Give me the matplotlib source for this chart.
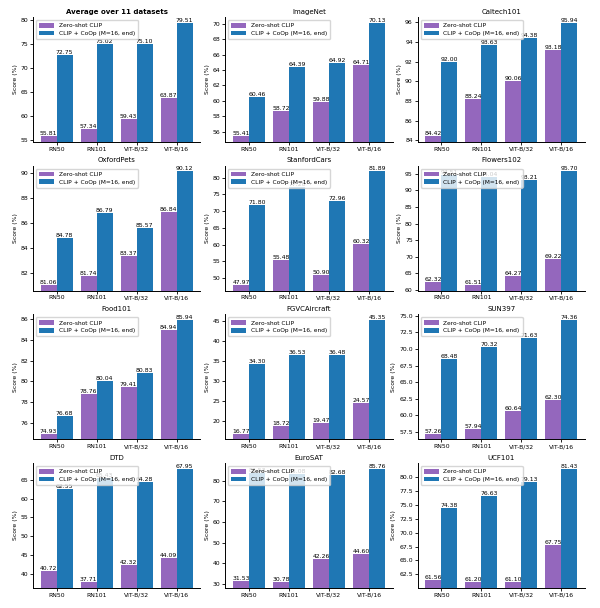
import matplotlib
matplotlib.use("Agg")
import matplotlib.pyplot as plt
import numpy as np

backbones = ["RN50", "RN101", "ViT-B/32", "ViT-B/16"]

titles = ["Average over 11 datasets", "ImageNet", "Caltech101",
          "OxfordPets", "StanfordCars", "Flowers102",
          "Food101", "FGVCAircraft", "SUN397",
          "DTD", "EuroSAT", "UCF101"]

zs_avg = [55.81, 57.34, 59.43, 63.87]
coop_avg = [72.75, 75.02, 75.10, 79.51]
zs_imagenet = [55.41, 58.72, 59.88, 64.71]
coop_imagenet = [60.46, 64.39, 64.92, 70.13]
zs_caltech = [84.42, 88.24, 90.06, 93.18]
coop_caltech = [92.00, 93.63, 94.38, 95.94]
zs_pets = [81.06, 81.74, 83.37, 86.84]
coop_pets = [84.78, 86.79, 85.57, 90.12]
zs_cars = [47.97, 55.48, 50.90, 60.32]
coop_cars = [71.80, 77.20, 72.96, 81.89]
zs_flowers = [62.32, 61.51, 64.27, 69.22]
coop_flowers = [94.51, 94.04, 93.21, 95.70]
zs_food = [74.93, 78.76, 79.41, 84.94]
coop_food = [76.68, 80.04, 80.83, 85.94]
zs_aircraft = [16.77, 18.72, 19.47, 24.57]
coop_aircraft = [34.30, 36.53, 36.48, 45.35]
zs_sun = [57.26, 57.94, 60.64, 62.30]
coop_sun = [68.48, 70.32, 71.63, 74.36]
zs_dtd = [40.72, 37.71, 42.32, 44.09]
coop_dtd = [62.55, 65.43, 64.28, 67.95]
zs_eurosat = [31.53, 30.78, 42.26, 44.60]
coop_eurosat = [83.53, 83.08, 82.68, 85.76]
zs_ucf = [61.56, 61.20, 61.10, 67.75]
coop_ucf = [74.38, 76.63, 79.13, 81.43]

zs_all = [zs_avg, zs_imagenet, zs_caltech, zs_pets, zs_cars, zs_flowers,
          zs_food, zs_aircraft, zs_sun, zs_dtd, zs_eurosat, zs_ucf]
coop_all = [coop_avg, coop_imagenet, coop_caltech, coop_pets, coop_cars, coop_flowers,
            coop_food, coop_aircraft, coop_sun, coop_dtd, coop_eurosat, coop_ucf]

fig, axes = plt.subplots(4, 3, figsize=(6, 6.08), dpi=100)
plt.subplots_adjust(left=0.055, right=0.975, top=0.972, bottom=0.033,
                    hspace=0.19, wspace=0.15)

x = np.arange(len(backbones))
w = 0.4
fs = 4.4
for i, ax in enumerate(axes.flat):
    zs = zs_all[i]
    coop = coop_all[i]
    b1 = ax.bar(x - w / 2, zs, w, color="#9467bd", label="Zero-shot CLIP")
    b2 = ax.bar(x + w / 2, coop, w, color="#1f77b4", label="CLIP + CoOp (M=16, end)")
    for bars in (b1, b2):
        for b in bars:
            h = b.get_height()
            ax.text(b.get_x() + b.get_width() / 2, h, "{:.2f}".format(h),
                    ha="center", va="bottom", fontsize=fs)
    lo = min(zs + coop)
    hi = max(zs + coop)
    r = hi - lo
    ax.set_ylim(lo - 0.05 * r, hi + 0.05 * r)
    ax.set_xticks(x)
    ax.set_xticklabels(backbones, fontsize=fs)
    ax.tick_params(axis="y", labelsize=fs, length=2, width=0.6, pad=1.5)
    ax.tick_params(axis="x", length=2, width=0.6, pad=1.5)
    ax.set_ylabel("Score (%)", fontsize=fs, labelpad=2)
    if i == 0:
        ax.set_title(titles[i], fontsize=5.0, fontweight="bold", pad=2.5)
    else:
        ax.set_title(titles[i], fontsize=5.0, pad=2.5)
    ax.spines["top"].set_visible(False)
    ax.spines["right"].set_visible(False)
    ax.spines["left"].set_linewidth(0.7)
    ax.spines["bottom"].set_linewidth(0.7)
    ax.legend(loc="upper left", fontsize=4.2, handlelength=2.6, handleheight=0.9,
              borderpad=0.5, labelspacing=0.4, handletextpad=0.8)

plt.savefig("out.png", dpi=100)
